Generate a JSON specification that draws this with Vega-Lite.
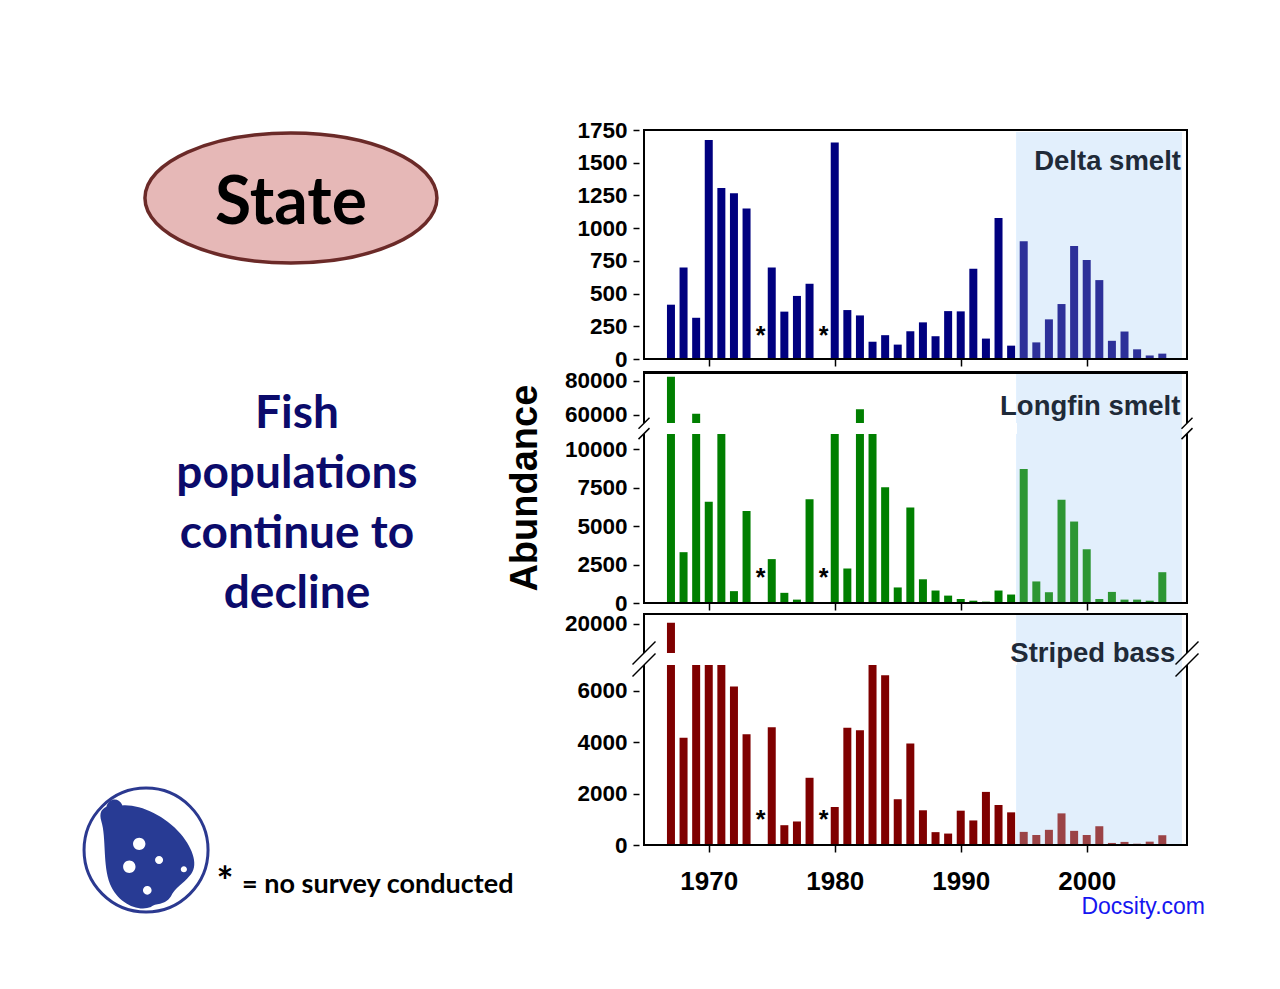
{
  "$schema": "https://vega.github.io/schema/vega-lite/v6.json",
  "width": 1280,
  "height": 989,
  "padding": 0,
  "autosize": {"type": "none"},
  "background": "white",
  "config": {
    "view": {"stroke": null},
    "axis": {"grid": false, "domain": false, "tickColor": "black", "labelColor": "black", "labelFont": "Liberation Sans", "labelFontWeight": "bold", "labelOverlap": false, "format": "d"}
  },
  "datasets": {
    "delta": [
      {"year": 1967, "v": 415}, {"year": 1968, "v": 700}, {"year": 1969, "v": 315}, {"year": 1970, "v": 1673},
      {"year": 1971, "v": 1307}, {"year": 1972, "v": 1267}, {"year": 1973, "v": 1150}, {"year": 1974, "v": null},
      {"year": 1975, "v": 700}, {"year": 1976, "v": 362}, {"year": 1977, "v": 482}, {"year": 1978, "v": 575},
      {"year": 1979, "v": null}, {"year": 1980, "v": 1654}, {"year": 1981, "v": 374}, {"year": 1982, "v": 333},
      {"year": 1983, "v": 132}, {"year": 1984, "v": 182}, {"year": 1985, "v": 110}, {"year": 1986, "v": 212},
      {"year": 1987, "v": 280}, {"year": 1988, "v": 174}, {"year": 1989, "v": 366}, {"year": 1990, "v": 364},
      {"year": 1991, "v": 689}, {"year": 1992, "v": 156}, {"year": 1993, "v": 1078}, {"year": 1994, "v": 102},
      {"year": 1995, "v": 899}, {"year": 1996, "v": 127}, {"year": 1997, "v": 303}, {"year": 1998, "v": 420},
      {"year": 1999, "v": 864}, {"year": 2000, "v": 756}, {"year": 2001, "v": 603}, {"year": 2002, "v": 139},
      {"year": 2003, "v": 210}, {"year": 2004, "v": 74}, {"year": 2005, "v": 27}, {"year": 2006, "v": 41}
    ],
    "longfin": [
      {"year": 1967, "v": 82400}, {"year": 1968, "v": 3300}, {"year": 1969, "v": 60600}, {"year": 1970, "v": 6580},
      {"year": 1971, "v": 13000}, {"year": 1972, "v": 770}, {"year": 1973, "v": 5970}, {"year": 1974, "v": null},
      {"year": 1975, "v": 2850}, {"year": 1976, "v": 660}, {"year": 1977, "v": 220}, {"year": 1978, "v": 6730},
      {"year": 1979, "v": null}, {"year": 1980, "v": 31000}, {"year": 1981, "v": 2240}, {"year": 1982, "v": 63200},
      {"year": 1983, "v": 12000}, {"year": 1984, "v": 7520}, {"year": 1985, "v": 1010}, {"year": 1986, "v": 6200},
      {"year": 1987, "v": 1540}, {"year": 1988, "v": 810}, {"year": 1989, "v": 480}, {"year": 1990, "v": 260},
      {"year": 1991, "v": 150}, {"year": 1992, "v": 90}, {"year": 1993, "v": 810}, {"year": 1994, "v": 550},
      {"year": 1995, "v": 8700}, {"year": 1996, "v": 1400}, {"year": 1997, "v": 700}, {"year": 1998, "v": 6710},
      {"year": 1999, "v": 5290}, {"year": 2000, "v": 3490}, {"year": 2001, "v": 260}, {"year": 2002, "v": 720},
      {"year": 2003, "v": 220}, {"year": 2004, "v": 220}, {"year": 2005, "v": 150}, {"year": 2006, "v": 2000}
    ],
    "striped": [
      {"year": 1967, "v": 20100}, {"year": 1968, "v": 4170}, {"year": 1969, "v": 8500}, {"year": 1970, "v": 11200},
      {"year": 1971, "v": 10500}, {"year": 1972, "v": 6160}, {"year": 1973, "v": 4310}, {"year": 1974, "v": null},
      {"year": 1975, "v": 4575}, {"year": 1976, "v": 770}, {"year": 1977, "v": 915}, {"year": 1978, "v": 2614},
      {"year": 1979, "v": null}, {"year": 1980, "v": 1477}, {"year": 1981, "v": 4560}, {"year": 1982, "v": 4460},
      {"year": 1983, "v": 7600}, {"year": 1984, "v": 6600}, {"year": 1985, "v": 1780}, {"year": 1986, "v": 3950},
      {"year": 1987, "v": 1350}, {"year": 1988, "v": 500}, {"year": 1989, "v": 445}, {"year": 1990, "v": 1335},
      {"year": 1991, "v": 955}, {"year": 1992, "v": 2065}, {"year": 1993, "v": 1555}, {"year": 1994, "v": 1270},
      {"year": 1995, "v": 510}, {"year": 1996, "v": 390}, {"year": 1997, "v": 590}, {"year": 1998, "v": 1230},
      {"year": 1999, "v": 550}, {"year": 2000, "v": 390}, {"year": 2001, "v": 730}, {"year": 2002, "v": 80},
      {"year": 2003, "v": 120}, {"year": 2004, "v": 50}, {"year": 2005, "v": 130}, {"year": 2006, "v": 380}
    ]
  },
  "resolve": {"scale": {"x": "independent", "y": "independent"}, "axis": {"x": "independent", "y": "independent"}},
  "layer": [
    {
      "data": {"values": [{}]},
      "encoding": {
        "x": {"datum": 0, "type": "quantitative", "scale": {"domain": [0, 1], "range": [0, 1280]}, "axis": null},
        "y": {"datum": 0, "type": "quantitative", "scale": {"domain": [0, 1], "range": [0, 989]}, "axis": null}
      },
      "layer": [
        {
          "mark": {"type": "point", "shape": "M-1,0A1,0.445,0,1,0,1,0A1,0.445,0,1,0,-1,0Z", "filled": true, "fill": "#e6b8b7", "stroke": "#6b2a28", "strokeWidth": 3.5, "size": 85264, "opacity": 1},
          "encoding": {"x": {"datum": 0.2273}, "y": {"datum": 0.2002}}
        },
        {
          "mark": {"type": "text", "text": "State", "font": "Lato", "fontWeight": "bold", "fontSize": 66, "color": "black", "align": "center", "baseline": "alphabetic"},
          "encoding": {"x": {"datum": 0.2273}, "y": {"datum": 0.2265}}
        },
        {
          "mark": {"type": "text", "text": ["Fish", "populations", "continue to", "decline"], "lineHeight": 60, "font": "Lato", "fontWeight": "bold", "fontSize": 46, "color": "#0b0b6b", "align": "center", "baseline": "alphabetic"},
          "encoding": {"x": {"datum": 0.232}, "y": {"datum": 0.4328}}
        },
        {
          "mark": {"type": "point", "shape": "circle", "filled": false, "stroke": "#2b3990", "strokeWidth": 3, "size": 15376, "opacity": 1},
          "encoding": {"x": {"datum": 0.1141}, "y": {"datum": 0.8595}}
        },
        {
          "mark": {"type": "point", "shape": "M-0.64,-0.7C-0.6,-0.84,-0.44,-0.86,-0.38,-0.72C-0.1,-0.74,0.3,-0.56,0.56,-0.26C0.76,-0.02,0.86,0.26,0.7,0.42C0.6,0.55,0.47,0.6,0.4,0.75C0.3,0.9,0.15,0.85,0.08,0.92C-0.15,1.0,-0.45,0.85,-0.58,0.55C-0.7,0.25,-0.64,-0.2,-0.72,-0.46C-0.76,-0.6,-0.72,-0.66,-0.64,-0.7Z", "filled": true, "fill": "#283b94", "strokeWidth": 0, "size": 15376, "opacity": 1},
          "encoding": {"x": {"datum": 0.1141}, "y": {"datum": 0.8595}}
        },
        {
          "mark": {"type": "point", "shape": "M-0.21,-0.1A0.1,0.1,0,1,0,-0.01,-0.1A0.1,0.1,0,1,0,-0.21,-0.1ZM0.145,0.16A0.065,0.065,0,1,0,0.275,0.16A0.065,0.065,0,1,0,0.145,0.16ZM-0.37,0.27A0.1,0.1,0,1,0,-0.17,0.27A0.1,0.1,0,1,0,-0.37,0.27ZM0.56,0.31A0.05,0.05,0,1,0,0.66,0.31A0.05,0.05,0,1,0,0.56,0.31ZM-0.05,0.65A0.07,0.07,0,1,0,0.09,0.65A0.07,0.07,0,1,0,-0.05,0.65Z", "filled": true, "fill": "white", "strokeWidth": 0, "size": 15376, "opacity": 1},
          "encoding": {"x": {"datum": 0.1141}, "y": {"datum": 0.8595}}
        },
        {
          "mark": {"type": "text", "text": "*", "font": "Lato", "fontWeight": "bold", "fontSize": 40, "color": "black", "align": "center", "baseline": "alphabetic"},
          "encoding": {"x": {"datum": 0.1758}, "y": {"datum": 0.9059}}
        },
        {
          "mark": {"type": "text", "text": "= no survey conducted", "font": "Lato", "fontWeight": "bold", "fontSize": 27, "color": "black", "align": "left", "baseline": "alphabetic"},
          "encoding": {"x": {"datum": 0.1891}, "y": {"datum": 0.9029}}
        },
        {
          "mark": {"type": "text", "text": "Docsity.com", "font": "Liberation Sans", "fontSize": 23, "color": "#1616f0", "align": "right", "baseline": "alphabetic"},
          "encoding": {"x": {"datum": 0.9414}, "y": {"datum": 0.9242}}
        }
      ]
    },
    {
      "data": {"name": "delta"},
      "layer": [
        {
          "mark": {"type": "rect", "color": "#e2effc"},
          "encoding": {"x": {"datum": 1994.45}, "x2": {"datum": 2007.55}, "y": {"datum": 1735}, "y2": {"datum": 0}}
        },
        {
          "mark": {"type": "bar", "size": 8, "color": "#00007f"},
          "encoding": {
            "x": {"field": "year", "type": "quantitative", "scale": {"domain": [1964.86, 2007.96], "range": [639, 1192], "nice": false, "zero": false},
              "axis": {"orient": "bottom", "offset": -630, "values": [1970, 1980, 1990, 2000], "labels": false, "tickSize": 7, "tickWidth": 1.5, "title": null}},
            "y": {"field": "v", "type": "quantitative", "scale": {"domain": [0, 1750], "range": [359, 130], "nice": false, "zero": false},
              "axis": {"orient": "left", "offset": -639, "values": [0, 250, 500, 750, 1000, 1250, 1500, 1750], "tickSize": 6, "tickWidth": 1.5, "labelPadding": 6, "labelFontSize": 22.5, "title": null}},
            "opacity": {"condition": {"test": "datum.year >= 1995", "value": 0.8}, "value": 1}
          }
        },
        {
          "mark": {"type": "rect", "filled": false, "stroke": "black", "strokeWidth": 2},
          "encoding": {"x": {"datum": 1964.86}, "x2": {"datum": 2007.96}, "y": {"datum": 1750}, "y2": {"datum": 0}}
        },
        {
          "mark": {"type": "text", "fontSize": 25, "font": "Liberation Sans", "fontWeight": "bold", "dx": 1.5, "dy": -23, "color": "black"},
          "encoding": {"x": {"field": "year", "type": "quantitative"}, "y": {"datum": 0}, "text": {"condition": {"test": "datum.v == null", "value": "*"}, "value": ""}}
        },
        {
          "mark": {"type": "text", "font": "Liberation Sans", "fontWeight": "bold", "fontSize": 27.5, "color": "#1f2a38", "align": "right", "baseline": "alphabetic", "dy": 40},
          "encoding": {"x": {"datum": 2007.48}, "y": {"datum": 1750}, "text": {"condition": {"test": "datum.year == 1967", "value": "Delta smelt"}, "value": ""}}
        }
      ]
    },
    {
      "data": {"name": "longfin"},
      "layer": [
        {
          "mark": {"type": "rect", "color": "#e2effc"},
          "encoding": {"x": {"datum": 1994.45}, "x2": {"datum": 2007.55}, "y": {"datum": 85000}, "y2": {"datum": 0}}
        },
        {
          "mark": {"type": "bar", "size": 8, "color": "#007f00"},
          "encoding": {
            "x": {"field": "year", "type": "quantitative", "scale": {"domain": [1964.86, 2007.96], "range": [639, 1192], "nice": false, "zero": false},
              "axis": {"orient": "bottom", "offset": -386, "values": [1970, 1980, 1990, 2000], "labels": false, "tickSize": 7, "tickWidth": 1.5, "title": null}},
            "y": {"field": "v", "type": "quantitative", "scale": {"domain": [0, 11000, 55000, 85000], "range": [603, 433.6, 423.3, 372.3], "nice": false, "zero": false},
              "axis": {"orient": "left", "offset": -639, "values": [0, 2500, 5000, 7500, 10000, 60000, 80000], "tickSize": 6, "tickWidth": 1.5, "labelPadding": 6, "labelFontSize": 22.5,
                "title": "Abundance", "titleFont": "Liberation Sans", "titleFontWeight": "bold", "titleFontSize": 38, "titleColor": "black", "titlePadding": 20}},
            "opacity": {"condition": {"test": "datum.year >= 1995", "value": 0.8}, "value": 1}
          }
        },
        {
          "mark": {"type": "rect", "filled": false, "stroke": "black", "strokeWidth": 2},
          "encoding": {"x": {"datum": 1964.86}, "x2": {"datum": 2007.96}, "y": {"datum": 85000}, "y2": {"datum": 0}}
        },
        {
          "mark": {"type": "rect", "color": "white"},
          "encoding": {"x": {"datum": 1964.4}, "x2": {"datum": 1994.45}, "y": {"datum": 55000}, "y2": {"datum": 11000}}
        },
        {
          "mark": {"type": "rect", "color": "white"},
          "encoding": {"x": {"datum": 2007.72}, "x2": {"datum": 2008.3}, "y": {"datum": 55000}, "y2": {"datum": 11000}}
        },
        {
          "mark": {"type": "point", "shape": "M-1,1L1,-1", "filled": false, "stroke": "black", "strokeWidth": 1.5, "size": 121},
          "encoding": {"x": {"datum": 1964.86}, "y": {"datum": 55000}, "opacity": {"condition": {"test": "datum.year == 1967", "value": 1}, "value": 0}}
        },
        {
          "mark": {"type": "point", "shape": "M-1,1L1,-1", "filled": false, "stroke": "black", "strokeWidth": 1.5, "size": 121},
          "encoding": {"x": {"datum": 1964.86}, "y": {"datum": 11000}, "opacity": {"condition": {"test": "datum.year == 1967", "value": 1}, "value": 0}}
        },
        {
          "mark": {"type": "point", "shape": "M-1,1L1,-1", "filled": false, "stroke": "black", "strokeWidth": 1.5, "size": 121},
          "encoding": {"x": {"datum": 2007.96}, "y": {"datum": 55000}, "opacity": {"condition": {"test": "datum.year == 1967", "value": 1}, "value": 0}}
        },
        {
          "mark": {"type": "point", "shape": "M-1,1L1,-1", "filled": false, "stroke": "black", "strokeWidth": 1.5, "size": 121},
          "encoding": {"x": {"datum": 2007.96}, "y": {"datum": 11000}, "opacity": {"condition": {"test": "datum.year == 1967", "value": 1}, "value": 0}}
        },
        {
          "mark": {"type": "text", "fontSize": 25, "font": "Liberation Sans", "fontWeight": "bold", "dx": 1.5, "dy": -25, "color": "black"},
          "encoding": {"x": {"field": "year", "type": "quantitative"}, "y": {"datum": 0}, "text": {"condition": {"test": "datum.v == null", "value": "*"}, "value": ""}}
        },
        {
          "mark": {"type": "text", "font": "Liberation Sans", "fontWeight": "bold", "fontSize": 27.5, "color": "#1f2a38", "align": "right", "baseline": "alphabetic", "dy": 43},
          "encoding": {"x": {"datum": 2007.43}, "y": {"datum": 85000}, "text": {"condition": {"test": "datum.year == 1967", "value": "Longfin smelt"}, "value": ""}}
        }
      ]
    },
    {
      "data": {"name": "striped"},
      "layer": [
        {
          "mark": {"type": "rect", "color": "#e2effc"},
          "encoding": {"x": {"datum": 1994.45}, "x2": {"datum": 2007.55}, "y": {"datum": 21000}, "y2": {"datum": 0}}
        },
        {
          "mark": {"type": "bar", "size": 8, "color": "#7f0000"},
          "encoding": {
            "x": {"field": "year", "type": "quantitative", "scale": {"domain": [1964.86, 2007.96], "range": [639, 1192], "nice": false, "zero": false},
              "axis": {"orient": "bottom", "offset": -144, "values": [1970, 1980, 1990, 2000], "tickSize": 7, "tickWidth": 1.5, "labelFontSize": 26, "labelPadding": 16, "title": null}},
            "y": {"field": "v", "type": "quantitative", "scale": {"domain": [0, 7000, 17000, 21000], "range": [845, 665, 653, 614], "nice": false, "zero": false},
              "axis": {"orient": "left", "offset": -639, "values": [0, 2000, 4000, 6000, 20000], "tickSize": 6, "tickWidth": 1.5, "labelPadding": 6, "labelFontSize": 22.5, "title": null}},
            "opacity": {"condition": {"test": "datum.year >= 1995", "value": 0.72}, "value": 1}
          }
        },
        {
          "mark": {"type": "rect", "filled": false, "stroke": "black", "strokeWidth": 2},
          "encoding": {"x": {"datum": 1964.86}, "x2": {"datum": 2007.96}, "y": {"datum": 21000}, "y2": {"datum": 0}}
        },
        {
          "mark": {"type": "rect", "color": "white"},
          "encoding": {"x": {"datum": 1964.4}, "x2": {"datum": 1994.45}, "y": {"datum": 17000}, "y2": {"datum": 7000}}
        },
        {
          "mark": {"type": "rect", "color": "white"},
          "encoding": {"x": {"datum": 2007.72}, "x2": {"datum": 2008.3}, "y": {"datum": 17000}, "y2": {"datum": 7000}}
        },
        {
          "mark": {"type": "point", "shape": "M-1,1L1,-1", "filled": false, "stroke": "black", "strokeWidth": 1.5, "size": 529},
          "encoding": {"x": {"datum": 1964.86}, "y": {"datum": 17000}, "opacity": {"condition": {"test": "datum.year == 1967", "value": 1}, "value": 0}}
        },
        {
          "mark": {"type": "point", "shape": "M-1,1L1,-1", "filled": false, "stroke": "black", "strokeWidth": 1.5, "size": 529},
          "encoding": {"x": {"datum": 1964.86}, "y": {"datum": 7000}, "opacity": {"condition": {"test": "datum.year == 1967", "value": 1}, "value": 0}}
        },
        {
          "mark": {"type": "point", "shape": "M-1,1L1,-1", "filled": false, "stroke": "black", "strokeWidth": 1.5, "size": 529},
          "encoding": {"x": {"datum": 2007.96}, "y": {"datum": 17000}, "opacity": {"condition": {"test": "datum.year == 1967", "value": 1}, "value": 0}}
        },
        {
          "mark": {"type": "point", "shape": "M-1,1L1,-1", "filled": false, "stroke": "black", "strokeWidth": 1.5, "size": 529},
          "encoding": {"x": {"datum": 2007.96}, "y": {"datum": 7000}, "opacity": {"condition": {"test": "datum.year == 1967", "value": 1}, "value": 0}}
        },
        {
          "mark": {"type": "text", "fontSize": 25, "font": "Liberation Sans", "fontWeight": "bold", "dx": 1.5, "dy": -25, "color": "black"},
          "encoding": {"x": {"field": "year", "type": "quantitative"}, "y": {"datum": 0}, "text": {"condition": {"test": "datum.v == null", "value": "*"}, "value": ""}}
        },
        {
          "mark": {"type": "text", "font": "Liberation Sans", "fontWeight": "bold", "fontSize": 27.5, "color": "#1f2a38", "align": "right", "baseline": "alphabetic", "dy": 48},
          "encoding": {"x": {"datum": 2007.04}, "y": {"datum": 21000}, "text": {"condition": {"test": "datum.year == 1967", "value": "Striped bass"}, "value": ""}}
        }
      ]
    }
  ]
}
